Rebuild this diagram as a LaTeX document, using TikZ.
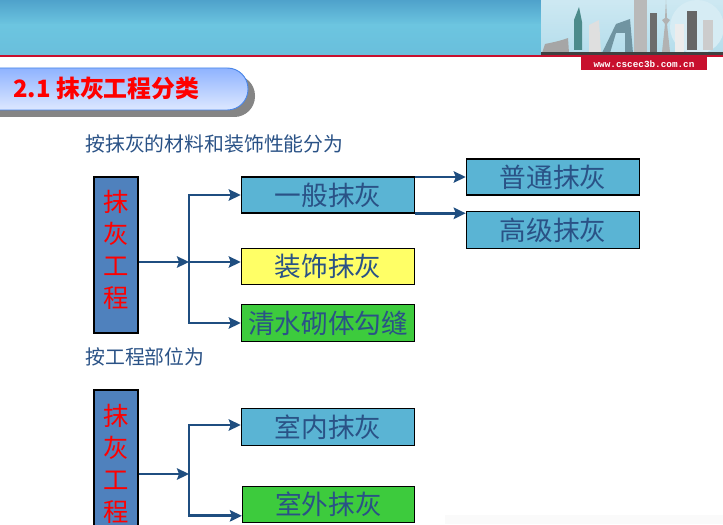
\documentclass[tikz,border=0pt]{standalone}
\usepackage{fontspec}
\usepackage{tikz}
\usetikzlibrary{arrows.meta}
\setmainfont{Noto Sans CJK SC}
\setmonofont{Liberation Mono}
\definecolor{navy}{HTML}{1F4E80}
\definecolor{skyblue}{HTML}{5AB4D4}
\definecolor{steel}{HTML}{4F81BD}
\definecolor{grass}{HTML}{3DCB3D}
\definecolor{lemon}{HTML}{FFFF66}
\definecolor{inkblue}{HTML}{2A5286}
\definecolor{bandred}{HTML}{C8102E}
\definecolor{bandtop}{HTML}{4FA2CB}
\definecolor{bandmid}{HTML}{6CC5E0}
\definecolor{bandlow}{HTML}{69BFDC}
\definecolor{pilltop}{HTML}{8FB3FF}
\definecolor{pilllow}{HTML}{DDE8FF}
\definecolor{pilledge}{HTML}{4A86E8}
\definecolor{pillshade}{HTML}{858585}
\tikzset{
  leafbox/.style={draw=black,line width=0.9pt,minimum width=130pt,inner sep=0pt,text=inkblue,font=\fontsize{20}{22}\selectfont},
  rootbox/.style={draw=black,line width=0.9pt,fill=steel,minimum width=33pt,minimum height=117pt,inner sep=0pt},
  roottext/.style={inner sep=0pt,align=center,text=red,font=\fontsize{19}{24}\selectfont},
  flow/.style={navy,line width=2.2pt},
  flowtip/.style={flow,-{Stealth[length=9pt,width=8.5pt,inset=1.5pt]}},
  heading/.style={anchor=west,inner sep=0pt,text=inkblue,font=\fontsize{14.9}{16}\selectfont}
}
\begin{document}
\begin{tikzpicture}[x=0.75pt,y=-0.75pt]
  \useasboundingbox (0,0) rectangle (723,524);
  % top band
  \shade[top color=bandtop,bottom color=bandmid] (0,0) rectangle (723,25);
  \shade[top color=bandmid,bottom color=bandlow] (0,25) rectangle (723,55);
  \shade[top color=skyblue!30!white,bottom color=skyblue!45!white] (541,0) rectangle (723,53);
  \fill[skyblue!25!white] (697,27) circle (27);
  \fill[gray!70!white] (542,53) -- (545,44) .. controls (555,42) and (563,40) .. (568,38) -- (569,53) -- cycle;
  \fill[teal!70!black!70!white] (574,50) -- (574,20) -- (579,7) -- (582,22) -- (582,50) -- cycle;
  \fill[gray!25!white] (589,25) -- (599,20) -- (601,52) -- (589,52) -- cycle;
  \fill[gray!60!skyblue] (602,53) -- (616,24) -- (630,19) -- (633,53) -- (625,53) -- (625,33) -- (616,33) -- (610,53) -- cycle;
  \fill[gray!55!white] (634,0) rectangle (647,53);
  \fill[gray!85!black] (650,13) rectangle (657,52);
  \fill[gray!60!white] (665,18) -- (666,0) -- (667,18) -- (670,20) -- (667,24) -- (670,52) -- (662,52) -- (665,24) -- (662,20) -- cycle;
  \fill[white!85!gray] (675,24) rectangle (684,53);
  \fill[gray!80!black] (687,11) rectangle (697,50);
  \fill[gray!40!white] (703,20) rectangle (713,50);
  \fill[gray!50!black] (541,52) rectangle (723,55);
  \fill[bandred] (0,55) rectangle (723,57.5);
  \fill[bandred] (581,57) rectangle (707,70);
  \node[inner sep=0pt,text=white,font=\ttfamily\bfseries\fontsize{7}{8}\selectfont] (site) at (644,64) {www.cscec3b.com.cn};
  % title
  \fill[pillshade,rounded corners=15.5pt] (-30,75) rectangle (255,117);
  \draw[draw=pilledge,line width=0.7pt,top color=pilltop,bottom color=pilllow,rounded corners=15.5pt] (-30,68) rectangle (248,110);
  \node[anchor=west,inner sep=0pt,text=red,font=\bfseries\fontsize{17.9}{20}\selectfont] (title) at (13,88) {2.1 抹灰工程分类};
  % first tree
  \node[heading] (sub1) at (85,144) {按抹灰的材料和装饰性能分为};
  \node[rootbox] (gc1) at (116,255) {};
  \node[roottext] (gc1text) at (116,250) {抹\\灰\\工\\程};
  \node[leafbox,fill=skyblue,minimum height=27pt] (yiban) at (328,195) {一般抹灰};
  \node[leafbox,fill=lemon,minimum height=27pt] (zhuangshi) at (328,266.5) {装饰抹灰};
  \node[leafbox,fill=grass,minimum height=28pt] (qingshui) at (328,323) {清水砌体勾缝};
  \node[leafbox,fill=skyblue,minimum height=27pt] (putong) at (553,177) {普通抹灰};
  \node[leafbox,fill=skyblue,minimum height=28pt] (gaoji) at (553,230) {高级抹灰};
  \coordinate (joina) at (189,262);
  \coordinate (joinc) at (414.7,213.3);
  \draw[flowtip] (gc1.east |- joina) -- (joina);
  \draw[flowtip] (joina) |- (yiban.west);
  \draw[flowtip] (joina) -- (zhuangshi.west |- joina);
  \draw[flowtip] (joina) |- (qingshui.west);
  \draw[flowtip] (yiban.east |- putong.west) -- (putong.west);
  \draw[flowtip] (yiban.east |- joinc) -- (gaoji.west |- joinc);
  % second tree
  \node[heading] (sub2) at (85,357) {按工程部位为};
  \node[rootbox] (gc2) at (116,468) {};
  \node[roottext] (gc2text) at (116,463.5) {抹\\灰\\工\\程};
  \node[leafbox,fill=skyblue,minimum height=28pt] (shinei) at (328,427) {室内抹灰};
  \node[leafbox,fill=grass,minimum height=27pt,minimum width=129pt] (shiwai) at (328.5,504.5) {室外抹灰};
  \coordinate (joinb) at (189,474);
  \draw[flowtip] (gc2.east |- joinb) -- (joinb);
  \draw[flowtip] (joinb) |- ([yshift=1.5]shinei.west);
  \draw[flowtip] (joinb) |- ([yshift=-8.5]shiwai.west);
  % faint strip
  \fill[black!2] (445,515) rectangle (723,524);
\end{tikzpicture}
\end{document}
